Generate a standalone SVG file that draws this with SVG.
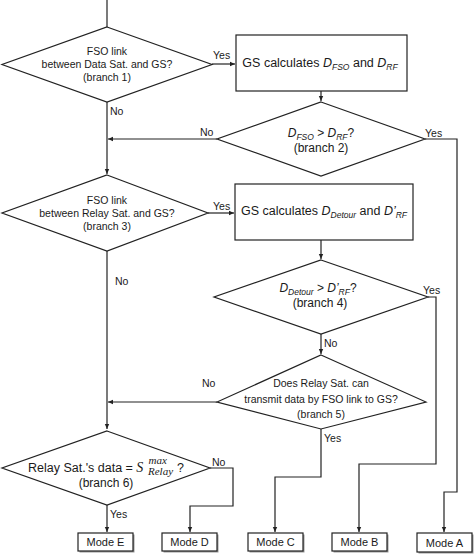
<svg xmlns="http://www.w3.org/2000/svg" width="474" height="554" viewBox="0 0 474 554">
<style>
text{font-family:"Liberation Sans",Arial,sans-serif;fill:#1a1a1a}
.s{fill:#fff;stroke:#222;stroke-width:1.2}
.c{fill:none;stroke:#222;stroke-width:1.2}
.d{font-size:10.5px}
.m{font-size:12px}
.b{font-size:12.5px}
.l{font-size:10.5px}
.mo{font-size:11px}
.sh{fill:#9a9a9a}
.i{font-style:italic}
.mt{font-family:"Liberation Serif","DejaVu Serif",serif;font-style:italic}
</style>
<defs>
<marker id="ah" markerWidth="6" markerHeight="6" refX="5" refY="3" orient="auto" markerUnits="userSpaceOnUse">
<path d="M0,0.8 L5,3 L0,5.2 Z" fill="#222"/>
</marker>
</defs>
<rect width="474" height="554" fill="#fff"/>

<g id="connectors" class="c">
<path d="M107,0 V27"/>
<path d="M212,64 H235" marker-end="url(#ah)"/>
<path d="M321,91 V101" marker-end="url(#ah)"/>
<path d="M107,102 V174" marker-end="url(#ah)"/>
<path d="M217,139 H108" marker-end="url(#ah)"/>
<path d="M425,139 H457 V492 H444 V532" marker-end="url(#ah)"/>
<path d="M208,213 H234" marker-end="url(#ah)"/>
<path d="M321,240 V259" marker-end="url(#ah)"/>
<path d="M428,297 H436 V464 H359 V532" marker-end="url(#ah)"/>
<path d="M321,334 V354" marker-end="url(#ah)"/>
<path d="M217,402 H108" marker-end="url(#ah)"/>
<path d="M321,429 V477 H275 V532" marker-end="url(#ah)"/>
<path d="M107,251 V429" marker-end="url(#ah)"/>
<path d="M210,468 H233 V506 H190 V532" marker-end="url(#ah)"/>
<path d="M107,505 V532" marker-end="url(#ah)"/>
</g>

<g id="labels" class="l">
<text x="213" y="59">Yes</text>
<text x="110" y="115">No</text>
<text x="200" y="136">No</text>
<text x="425" y="137">Yes</text>
<text x="213" y="210">Yes</text>
<text x="115" y="285">No</text>
<text x="423" y="294">Yes</text>
<text x="324" y="347">No</text>
<text x="202" y="387">No</text>
<text x="324" y="442">Yes</text>
<text x="212" y="466">No</text>
<text x="110" y="518">Yes</text>
</g>

<g id="branch1">
<polygon class="s" points="107,27 212,64.5 107,102 2,64.5"/>
<text class="d" text-anchor="middle" x="107" y="55">FSO link</text>
<text class="d" text-anchor="middle" x="107" y="68">between Data Sat. and GS?</text>
<text class="d" text-anchor="middle" x="107" y="81">(branch 1)</text>
</g>

<g id="calc1">
<rect class="s" x="236" y="35" width="171" height="56"/>
<text class="b" text-anchor="middle" x="320" y="67">GS calculates <tspan class="i">D</tspan><tspan class="i" font-size="8.5" dy="3">FSO</tspan><tspan dy="-3"> and </tspan><tspan class="i">D</tspan><tspan class="i" font-size="8.5" dy="3">RF</tspan></text>
</g>

<g id="branch2">
<polygon class="s" points="321,102 425,139 321,176 217,139"/>
<text class="m" text-anchor="middle" x="321" y="137"><tspan class="i">D</tspan><tspan class="i" font-size="8.5" dy="3">FSO</tspan><tspan dy="-3"> &gt; </tspan><tspan class="i">D</tspan><tspan class="i" font-size="8.5" dy="3">RF</tspan><tspan dy="-3">?</tspan></text>
<text class="m" text-anchor="middle" x="321" y="152">(branch 2)</text>
</g>

<g id="branch3">
<polygon class="s" points="107,175 208,213 107,251 2,213"/>
<text class="d" text-anchor="middle" x="107" y="204">FSO link</text>
<text class="d" text-anchor="middle" x="107" y="217">between Relay Sat. and GS?</text>
<text class="d" text-anchor="middle" x="107" y="230">(branch 3)</text>
</g>

<g id="calc2">
<rect class="s" x="235" y="184" width="178" height="56"/>
<text class="b" text-anchor="middle" x="324" y="215">GS calculates <tspan class="i">D</tspan><tspan class="i" font-size="8.5" dy="3">Detour</tspan><tspan dy="-3"> and </tspan><tspan class="i">D’</tspan><tspan class="i" font-size="8.5" dy="3">RF</tspan></text>
</g>

<g id="branch4">
<polygon class="s" points="321,260 428,297 321,334 214,297"/>
<text class="m" text-anchor="middle" x="318" y="292"><tspan class="i">D</tspan><tspan class="i" font-size="8.5" dy="3">Detour</tspan><tspan dy="-3"> &gt; </tspan><tspan class="i">D’</tspan><tspan class="i" font-size="8.5" dy="3">RF</tspan><tspan dy="-3">?</tspan></text>
<text class="m" text-anchor="middle" x="320" y="307">(branch 4)</text>
</g>

<g id="branch5">
<polygon class="s" points="321,355 426,402 321,429 217,402"/>
<text class="d" text-anchor="middle" x="321" y="387">Does Relay Sat. can</text>
<text class="d" text-anchor="middle" x="321" y="403">transmit data by FSO link to GS?</text>
<text class="d" text-anchor="middle" x="321" y="418">(branch 5)</text>
</g>

<g id="branch6">
<polygon class="s" points="107,431 210,468 107,505 2,468"/>
<text class="b" x="28" y="472">Relay Sat.'s data = <tspan class="mt" font-size="14">S</tspan><tspan class="mt" x="148.5" y="463.5" font-size="11">max</tspan><tspan class="mt" x="148" y="474.5" font-size="11">Relay</tspan><tspan x="177" y="472">?</tspan></text>
<text class="m" text-anchor="middle" x="106" y="487">(branch 6)</text>
</g>

<g id="modeE">
<rect class="sh" x="79.5" y="534.5" width="55" height="18"/>
<rect class="s" x="78" y="533" width="55" height="18"/>
<text class="mo" text-anchor="middle" x="105.5" y="546">Mode E</text>
</g>
<g id="modeD">
<rect class="sh" x="163.5" y="534.5" width="55" height="18"/>
<rect class="s" x="162" y="533" width="55" height="18"/>
<text class="mo" text-anchor="middle" x="189.5" y="546">Mode D</text>
</g>
<g id="modeC">
<rect class="sh" x="249.5" y="534.5" width="55" height="18"/>
<rect class="s" x="248" y="533" width="55" height="18"/>
<text class="mo" text-anchor="middle" x="275.5" y="546">Mode C</text>
</g>
<g id="modeB">
<rect class="sh" x="333.5" y="534.5" width="55" height="18"/>
<rect class="s" x="332" y="533" width="55" height="18"/>
<text class="mo" text-anchor="middle" x="359.5" y="546">Mode B</text>
</g>
<g id="modeA">
<rect class="sh" x="418.5" y="534.5" width="55" height="19"/>
<rect class="s" x="417" y="533" width="55" height="19"/>
<text class="mo" text-anchor="middle" x="444.5" y="547">Mode A</text>
</g>
</svg>
